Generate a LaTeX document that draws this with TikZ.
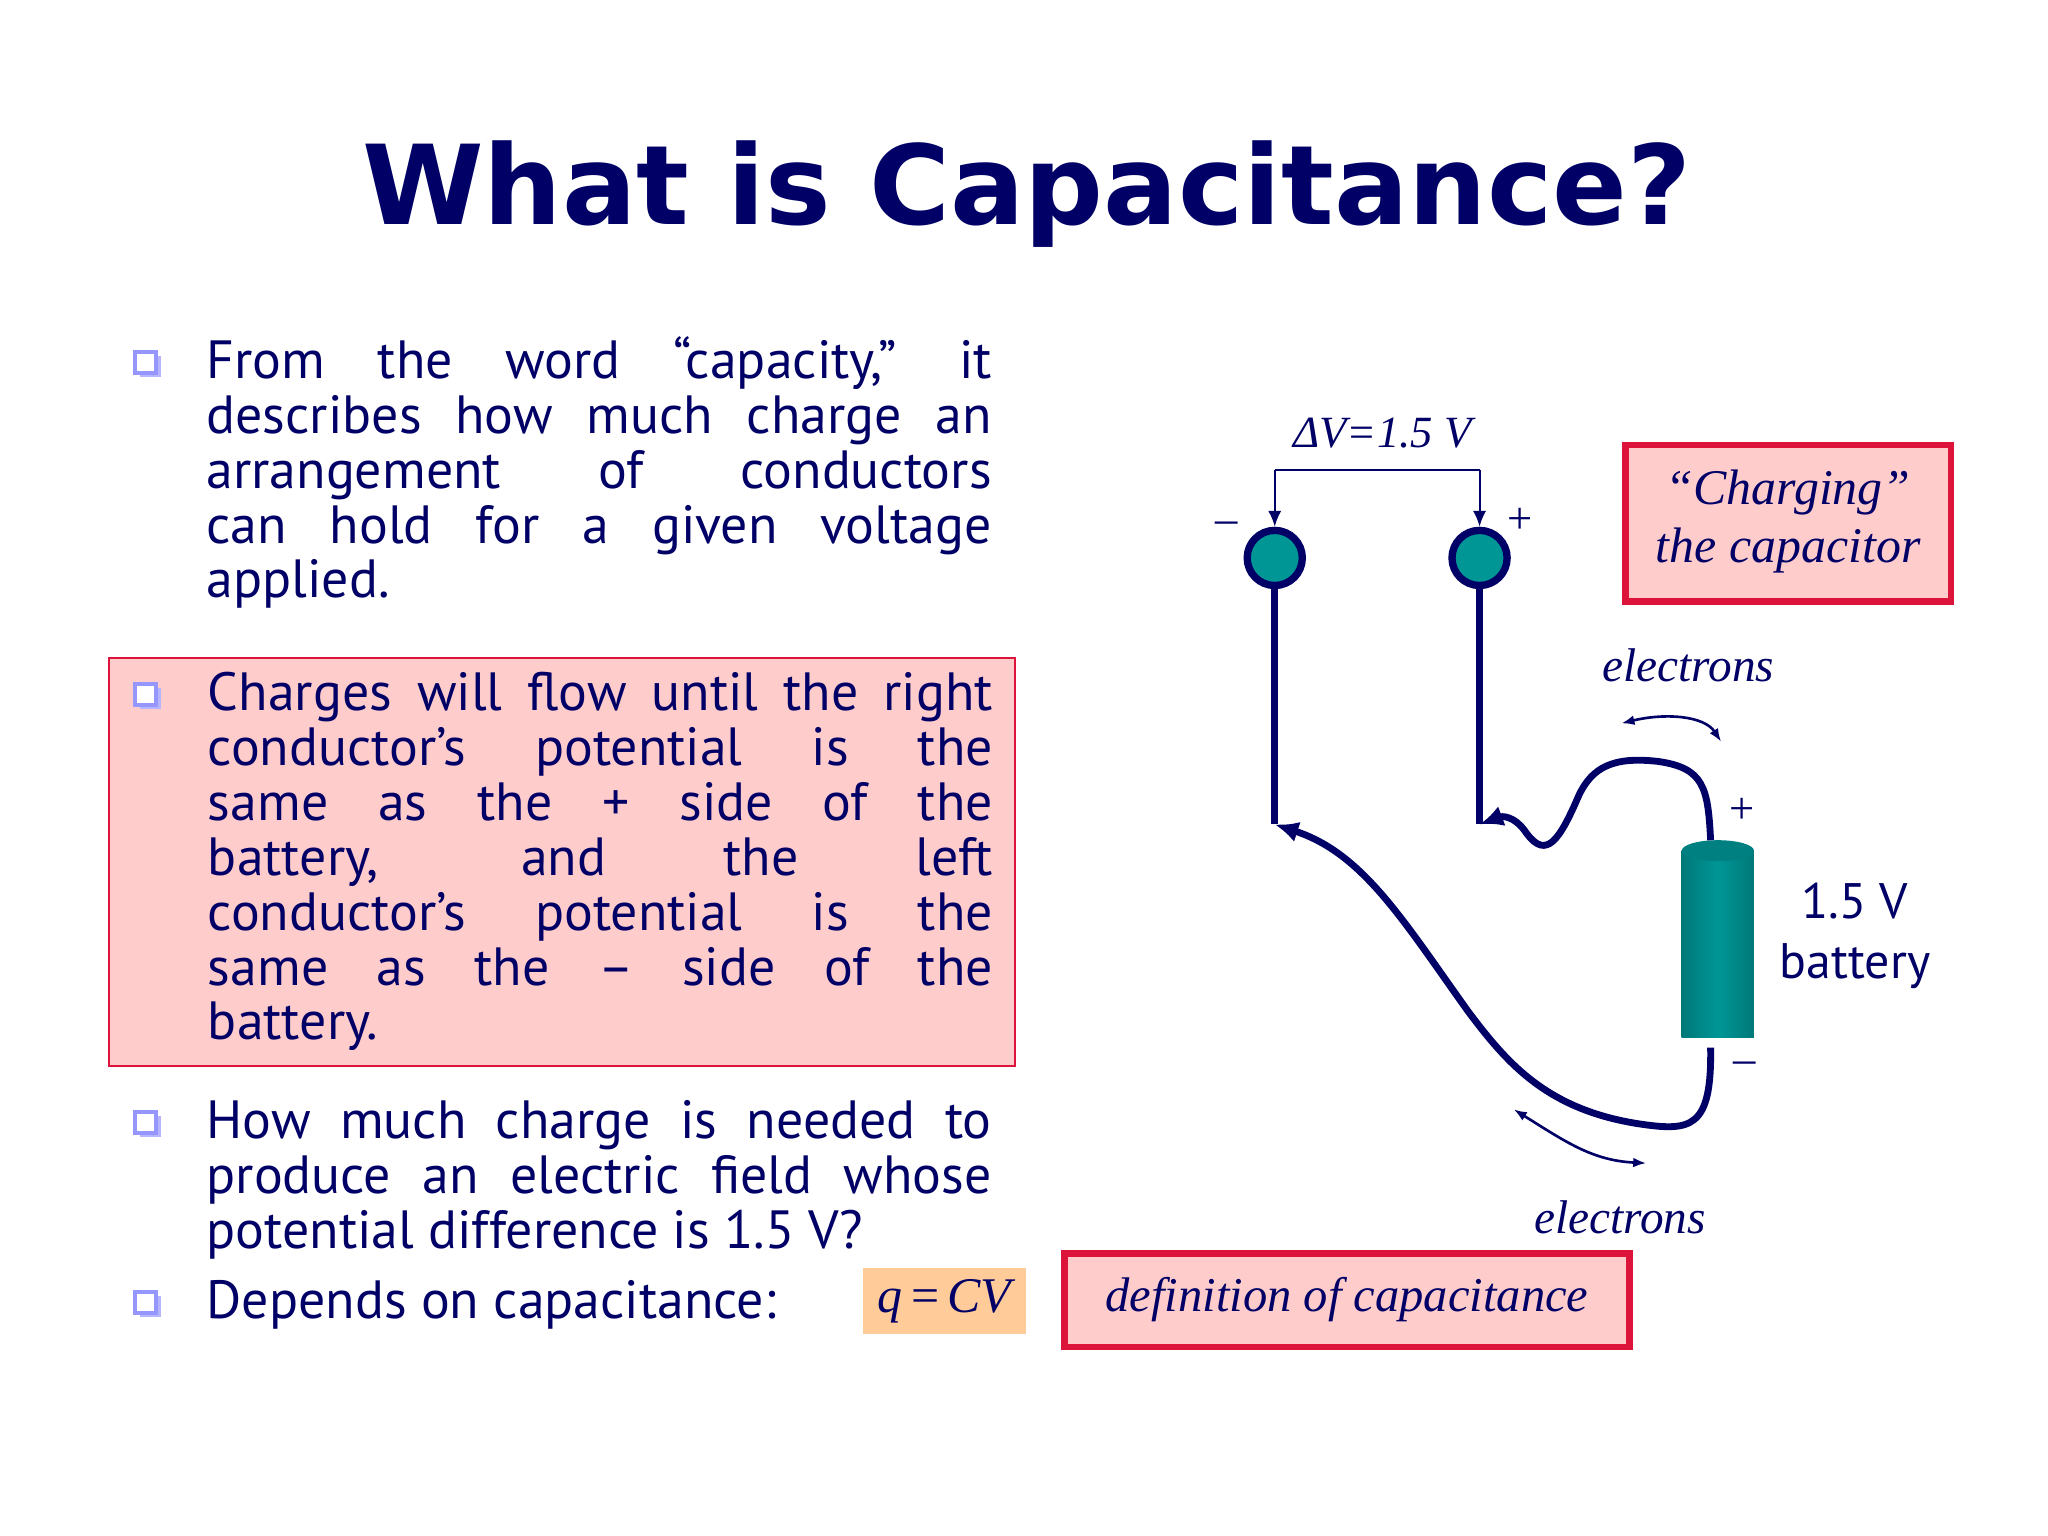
\documentclass[tikz,border=0pt]{standalone}
\usepackage{fontspec}
\setmainfont{Liberation Serif}
\newfontfamily\bodyf{PT Sans}
\newfontfamily\titlef{DejaVu Sans}
\usetikzlibrary{arrows.meta}
\definecolor{navy}{RGB}{0,0,102}
\definecolor{teal2}{RGB}{0,150,150}
\definecolor{pinkf}{RGB}{255,204,204}
\definecolor{redb}{RGB}{220,20,60}
\definecolor{orangef}{RGB}{255,204,153}
\definecolor{bul}{RGB}{150,150,255}
\tikzset{
 body/.style={font=\bodyf\fontsize{20.5}{20.5}\selectfont, text=navy, anchor=base west, inner sep=0pt},
 bullet/.style={draw=bul, fill=white, line width=1.4pt, minimum size=8pt, inner sep=0pt},
 wire/.style={navy, line width=2.6pt},
 thin/.style={navy, line width=0.8pt},
 term/.style={circle, draw=navy, fill=teal2, line width=2.8pt, minimum size=21pt, inner sep=0pt},
 lab/.style={font=\itshape\fontsize{18}{18}\selectfont, text=navy},
 redbox/.style={draw=redb, fill=pinkf, line width=2.5pt},
}
\newcommand{\jl}[1]{\makebox[299pt][s]{#1}}
\begin{document}
\begin{tikzpicture}[x=0.5pt,y=-0.5pt]
\useasboundingbox (0,0) rectangle (1560,1170);
\node[font=\titlef\bfseries\fontsize{42}{42}\selectfont, text=navy] (title) at (782,148) {What is Capacitance?};
% box 2
\fill[pinkf] (83,501) rectangle (773,812);
\draw[redb, line width=0.8pt] (83,501) rectangle (773,812);
% bullets
\foreach \y/\n in {276/b1,529/b2,855/b3,992/b4}{
  \fill[bul!70] (107,\y-5) rectangle (123,\y+11);
  \node[bullet] (\n) at (111,\y) {};}
% paragraph 1
\node[body] (p11) at (157,288) {\jl{From the word “capacity,” it}};
\node[body] (p12) at (157,330) {\jl{describes how much charge an}};
\node[body] (p13) at (157,372) {\jl{arrangement of conductors}};
\node[body] (p14) at (157,414) {\jl{can hold for a given voltage}};
\node[body] (p15) at (157,455) {applied.};
% paragraph 2
\node[body] (p21) at (158,541) {\jl{Charges will flow until the right}};
\node[body] (p22) at (158,583) {\jl{conductor’s potential is the}};
\node[body] (p23) at (158,625) {\jl{same as the + side of the}};
\node[body] (p24) at (158,667) {\jl{battery, and the left}};
\node[body] (p25) at (158,709) {\jl{conductor’s potential is the}};
\node[body] (p26) at (158,751) {\jl{same as the – side of the}};
\node[body] (p27) at (158,792) {battery.};
% paragraph 3
\node[body] (p31) at (157,867) {\jl{How much charge is needed to}};
\node[body] (p32) at (157,909) {\jl{produce an electric field whose}};
\node[body] (p33) at (157,951) {potential difference is 1.5 V?};
\node[body] (p41) at (157,1004) {Depends on capacitance:};
\node[fill=orangef, minimum width=62pt, minimum height=25pt, inner sep=0pt, font=\itshape\fontsize{19}{19}\selectfont, text=navy] (qcv) at (719.5,991) {q\,{\upshape=}\,CV};
% circuit
\node[term] (tl) at (971,425) {};
\node[term] (tr) at (1127,425) {};
\coordinate (lb) at (971,628);
\coordinate (rb) at (1127,628);
\draw[wire] (tl.south) -- (lb);
\draw[wire] (tr.south) -- (rb);
\coordinate (bl) at (971,358);
\coordinate (br) at (1127,358);
\draw[thin,-{Latex[length=6pt,width=5pt]}] (bl) -- (tl.north);
\draw[thin,-{Latex[length=6pt,width=5pt]}] (br) -- (tr.north);
\draw[thin] (bl) -- (br);
\node[lab, font=\itshape\fontsize{17}{17}\selectfont] (dv) at (1053,330) {ΔV=1.5 V};
\node[text=navy, font=\fontsize{17}{17}\selectfont] (mn) at (934,402) {–};
\node[text=navy, font=\fontsize{17}{17}\selectfont] (pl) at (1158,397) {+};
% charging box
\draw[redbox] (1238,339) rectangle (1486,458);
\node[lab, font=\itshape\fontsize{19}{22}\selectfont, align=center] (chg) at (1362,397) {“Charging”\\the capacitor};
% battery
\shade[left color=teal2!80!black, right color=teal2!80!black, middle color=teal2, shading angle=90] (1281,648) rectangle (1336,790);
\shade[left color=teal2!80!black, right color=teal2!80!black, middle color=teal2, shading angle=90] (1281,790) arc[start angle=180,end angle=360,x radius=27.5,y radius=8] -- (1336,790) -- cycle;
\fill[teal2!85!black] (1308.5,648) ellipse[x radius=27.5, y radius=8];
\node[minimum width=27pt, minimum height=78pt, inner sep=0pt] (bat) at (1308.5,718) {};
\coordinate (bt) at (1303,640);
\coordinate (bb) at (1303,798);
\draw[wire, -{Latex[length=9pt,width=8pt]}] (bt) .. controls (1301,600) and (1298,585) .. (1263,580)
  .. controls (1228,576) and (1213,585) .. (1203,605)
  .. controls (1188,640) and (1178,655) .. (1163,635)
  .. controls (1153,620) and (1143,622) .. (rb);
\draw[wire, -{Latex[length=9pt,width=8pt]}] (bb) .. controls (1304,860) and (1288,862) .. (1248,856)
  .. controls (1178,845) and (1148,810) .. (1118,770)
  .. controls (1068,700) and (1038,650) .. (lb);
\node[text=navy, font=\fontsize{17}{17}\selectfont] (bp) at (1327,618) {+};
\node[text=navy, font=\fontsize{17}{17}\selectfont] (bm) at (1329,813) {–};
\node[font=\bodyf\fontsize{19}{23}\selectfont, text=navy, align=center] (bl15) at (1413,713) {1.5 V\\battery};
% electrons
\node[lab] (e1) at (1286,507) {electrons};
\coordinate (a1) at (1235,551);
\coordinate (a2) at (1311,565);
\draw[thin, line width=1pt, {Latex[length=5pt]}-{Latex[length=5pt]}] (a1) .. controls (1268,543) and (1298,545) .. (a2);
\node[lab] (e2) at (1234,927) {electrons};
\coordinate (a3) at (1153,845);
\coordinate (a4) at (1254,886);
\draw[thin, line width=1pt, {Latex[length=5pt]}-{Latex[length=5pt]}] (a3) .. controls (1193,870) and (1213,884) .. (a4);
% definition
\draw[redbox] (811,955) rectangle (1241,1026);
\node[lab, font=\itshape\fontsize{18.5}{18.5}\selectfont] (def) at (1026,990) {definition of capacitance};
\end{tikzpicture}
\end{document}
